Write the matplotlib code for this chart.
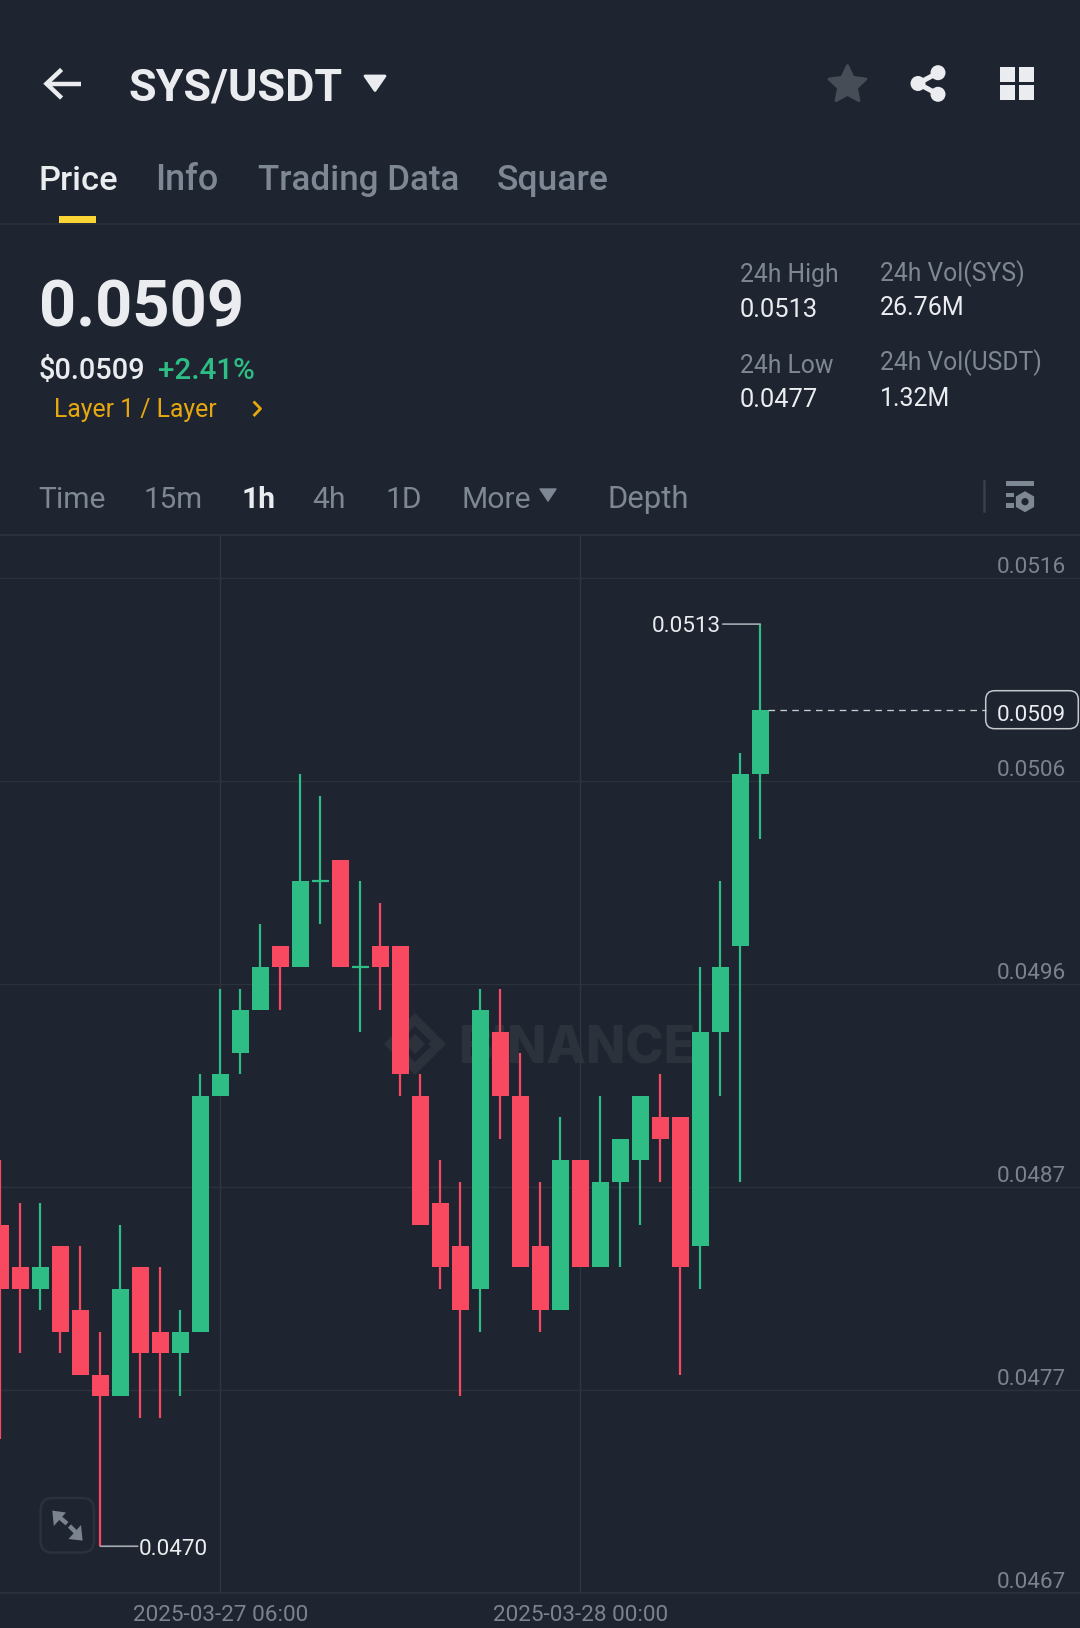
import numpy as np
import matplotlib
matplotlib.use("Agg")
import matplotlib.pyplot as plt
from matplotlib.patches import Polygon, Rectangle, FancyBboxPatch, Circle

W, H = 1080, 1628
BG = "#1F2530"
GRID = "#2C323C"
WHITE = "#EAECEF"
GRAY = "#7E8794"
AXIS_TXT = "#7B838F"
UP = "#2EBD85"
DOWN = "#F84960"
YELLOW = "#FCD535"
GOLD = "#E6A80F"
FONT = "Roboto"

# 1h candles, oldest first
opens = [.0485, .0483, .0482, .0484, .0481, .0478, .0477, .0483, .0480, .0479, .0480, .0491, .0493,
         .0495, .0498, .0497, .0501, .0502, .0497, .0498, .0498, .0491, .0486, .0484, .0482, .0494,
         .0491, .0484, .0481, .0488, .0483, .0487, .0488, .0490, .0490, .0484, .0494, .0498, .0506]
closes = [.0482, .0482, .0483, .0480, .0478, .0477, .0482, .0479, .0479, .0480, .0491, .0492, .0495,
          .0497, .0497, .0501, .0501, .0497, .0497, .0497, .0492, .0485, .0483, .0481, .0495, .0491,
          .0483, .0481, .0488, .0483, .0487, .0489, .0491, .0489, .0483, .0494, .0497, .0506, .0509]
highs = [.0488, .0486, .0486, .0484, .0484, .0480, .0485, .0483, .0483, .0481, .0492, .0496, .0496,
         .0499, .0498, .0506, .0505, .0502, .0501, .0500, .0498, .0492, .0488, .0487, .0496, .0496,
         .0493, .0487, .0490, .0488, .0491, .0489, .0491, .0492, .0490, .0497, .0501, .0507, .0513]
lows = [.0475, .0479, .0481, .0479, .0478, .0470, .0477, .0476, .0476, .0477, .0480, .0491, .0492,
        .0495, .0495, .0497, .0499, .0497, .0494, .0495, .0491, .0485, .0482, .0477, .0480, .0489,
        .0483, .0480, .0481, .0483, .0483, .0483, .0485, .0487, .0478, .0482, .0491, .0487, .0503]
grid_prices = [.051517, .05057, .049623, .048676, .047729, .046782]
grid_labels = ["0.0516", "0.0506", "0.0496", "0.0487", "0.0477", "0.0467"]
time_ticks = [11, 29]
time_labels = ["2025-03-27 06:00", "2025-03-28 00:00"]
last_price = .0509

fig = plt.figure(figsize=(W / 100, H / 100), dpi=100, facecolor=BG)
plt.rcParams["font.family"] = [FONT, "DejaVu Sans"]

# interface layer, in image pixels
ui = fig.add_axes([0, 0, 1, 1], zorder=0)
ui.set_xlim(0, W)
ui.set_ylim(H, 0)
ui.axis("off")
ui.set_facecolor(BG)


def label(x, y, s, px, color=GRAY, weight="normal", ha="left", zorder=3):
    ui.text(x, y, s, fontsize=px * 0.72, color=color, fontweight=weight, ha=ha, va="baseline",
            family=FONT, zorder=zorder)


label(129, 100.5, "SYS/USDT", 45, WHITE, "bold")
label(38.5, 190, "Price", 34.5, WHITE, "medium")
label(155, 190, "Info", 36, GRAY, "medium")
label(258, 190, "Trading Data", 35, GRAY, "medium")
label(497, 190, "Square", 35.5, GRAY, "medium")
ui.add_patch(Rectangle((59, 215.5), 37, 7.5, color=YELLOW, lw=0, zorder=3))
ui.plot([0, W], [224, 224], color=GRID, lw=1.2)

label(39, 326.5, "0.0509", 65, WHITE, "bold")
label(38.5, 379, "$0.0509", 29, WHITE, "medium")
label(158, 379, "+2.41%", 29.5, UP, "medium")
label(53.5, 417, "Layer 1 / Layer", 24.7, GOLD)
ui.plot([254.5, 260.5, 254.5], [402.5, 408.7, 415], color=GOLD, lw=2)

label(740, 282, "24h High", 24.7)
label(740, 316.8, "0.0513", 25.5, WHITE)
label(879.5, 280.6, "24h Vol(SYS)", 24.6)
label(879.5, 315.4, "26.76M", 25, WHITE)
label(740, 372.6, "24h Low", 24.7)
label(740, 407, "0.0477", 25.5, WHITE)
label(879.5, 370, "24h Vol(USDT)", 24.6)
label(879.5, 405.6, "1.32M", 25, WHITE)

for x, s, px in zip([38, 144, 312.5, 385.5, 461, 607],
                    ["Time", "15m", "4h", "1D", "More", "Depth"],
                    [30, 29.5, 30, 30, 30, 31]):
    label(x, 508, s, px)
label(242, 508, "1h", 30, WHITE, "bold")
ui.add_patch(Polygon([[540, 489], [556, 489], [548, 501]], color=GRAY, lw=1, joinstyle="round"))
ui.plot([983.5, 983.5], [481, 511], color="#3A404B", lw=1.8)
ui.plot([0, W], [534.5, 534.5], color=GRID, lw=1.4)

# header icons
ui.plot([47, 81], [83.7, 83.7], color=WHITE, lw=3.2, solid_capstyle="butt")
ui.plot([60, 46.5, 60], [71, 83.7, 96.5], color=WHITE, lw=3.2, solid_joinstyle="miter")
ui.add_patch(Polygon([[365, 76], [385, 76], [375, 90.5]], color=WHITE, lw=2, joinstyle="round"))
ang = np.deg2rad(np.arange(0, 360, 36) - 90)
rad = np.where(np.arange(10) % 2 == 0, 19.5, 9.5)
ui.add_patch(Polygon(np.c_[847.5 + rad * np.cos(ang), 85 + rad * np.sin(ang)], color="#474D57", lw=2,
                     joinstyle="round"))
ui.plot([938, 918, 938], [72.7, 83.5, 94.3], color=WHITE, lw=3.6)
for cx, cy in [(938, 72.7), (918, 83.5), (938, 94.3)]:
    ui.add_patch(Circle((cx, cy), 7.5, color=WHITE, lw=0))
for bx, by in [(1000, 66.7), (1019, 66.7), (1000, 85), (1019, 85)]:
    ui.add_patch(Rectangle((bx, by), 15, 15, color=WHITE, lw=0))

# settings icon
for bx, by, bw, bh in [(1006, 481, 28, 5), (1006, 492.7, 7.5, 4.6), (1006, 503.3, 7.5, 5)]:
    ui.add_patch(Rectangle((bx, by), bw, bh, color=GRAY, lw=0))
hex_ang = np.deg2rad(np.arange(0, 360, 60) - 90)
ui.add_patch(Polygon(np.c_[1025 + 10.5 * np.cos(hex_ang), 501.7 + 10.5 * np.sin(hex_ang)], color=GRAY, lw=0))
ui.add_patch(Circle((1025, 501.7), 3.6, color=BG, lw=0))

# watermark
WM = "#2C323C"
ui.text(458, 1063, "BINANCE", fontsize=51.5 * 0.72, fontweight="heavy", family="Inter", color=WM, ha="left",
        va="baseline", zorder=1)
for pts in ([[415, 1034], [425, 1044], [415, 1054], [405, 1044]],
            [[393, 1035], [402, 1044], [393, 1053], [384, 1044]],
            [[437, 1035], [446, 1044], [437, 1053], [428, 1044]],
            [[415, 1013], [437, 1035], [430.5, 1041], [415, 1026], [399.5, 1041], [393, 1035]],
            [[415, 1075], [437, 1053], [430.5, 1047], [415, 1062], [399.5, 1047], [393, 1053]]):
    ui.add_patch(Polygon(pts, color=WM, lw=0, zorder=1))

# expand button
ui.add_patch(FancyBboxPatch((40.6 + 12, 1498 + 12), 53.4 - 24, 54.6 - 24, boxstyle="round,pad=12",
                            fc="none", ec=GRID, lw=1.8))
ui.add_patch(Polygon([[52.3, 1510.6], [66, 1512.5], [53.8, 1526]], color=AXIS_TXT, lw=0))
ui.add_patch(Polygon([[82.6, 1540.6], [68.5, 1539], [81, 1525]], color=AXIS_TXT, lw=0))
ui.plot([58, 67], [1516, 1523.7], color=AXIS_TXT, lw=3.2, solid_capstyle="butt")
ui.plot([69.5, 77], [1526, 1533.5], color=AXIS_TXT, lw=3.2, solid_capstyle="butt")

# price chart
TOP, BOT = 535, 1593
Y0, K = 624.2, 214700
ax = fig.add_axes([0, 1 - BOT / H, 1, (BOT - TOP) / H], zorder=1)
ax.patch.set_alpha(0)
ax.set_xlim(-0.015, 53.985)
ax.set_ylim(.0513 - (BOT - Y0) / K, .0513 + (Y0 - TOP) / K)
for s in ax.spines.values():
    s.set_visible(False)
ax.spines["bottom"].set_visible(True)
ax.spines["bottom"].set_color(GRID)
ax.spines["bottom"].set_linewidth(1.2)
ax.set_axisbelow(True)
ax.grid(True, axis="y", color=GRID, lw=1.0)
ax.grid(True, axis="x", color="#303641", lw=1.0)
ax.yaxis.tick_right()
ax.set_yticks(grid_prices, grid_labels)
ax.tick_params(axis="y", length=0, pad=-14 * 0.72, labelsize=22.5 * 0.72, labelcolor=AXIS_TXT)
for t in ax.get_yticklabels():
    t.set_ha("right")
    t.set_va("bottom")
    t.set_family(FONT)
ax.set_xticks(time_ticks, time_labels)
ax.tick_params(axis="x", length=0, pad=8.5, labelsize=22.5 * 0.72, labelcolor=AXIS_TXT)
for t in ax.get_xticklabels():
    t.set_family(FONT)

idx = np.arange(len(opens))
o, c, hi, lo = map(np.array, (opens, closes, highs, lows))
col = [UP if b else DOWN for b in (c > o) | ((c == o) & (idx > 0))]
ax.vlines(idx, lo, hi, colors=col, lw=1.6, zorder=3)
ax.bar(idx, np.abs(c - o), bottom=np.minimum(o, c), width=0.865, color=col, lw=0, zorder=4)
doji = c == o
ax.hlines(o[doji], idx[doji] - 0.4325, idx[doji] + 0.4325, colors=UP, lw=1.6, zorder=4)

hi_i, lo_i = int(np.argmax(hi)), int(np.argmin(lo))
for i, v, line_dx, text_dx, ha, text_dy in [(hi_i, hi[hi_i], -37.6, -39.5, "right", -8),
                                            (lo_i, lo[lo_i], 37.4, 38.2, "left", -9)]:
    ax.annotate("", xy=(i, v), xytext=(line_dx, 0), textcoords="offset pixels", zorder=5,
                arrowprops=dict(arrowstyle="-", color="#A7ABB2", lw=1.2, shrinkA=0, shrinkB=0))
    ax.annotate(f"{v:.4f}", xy=(i, v), xytext=(text_dx, text_dy), textcoords="offset pixels", ha=ha,
                va="baseline", color=WHITE, fontsize=22.5 * 0.72, family=FONT, zorder=6)

# last price line and tag
ax.plot([38.4, 49.27], [last_price, last_price], color="#C9CCD1", lw=0.95, dashes=(5, 4), zorder=5)
ax.annotate(f"{last_price:.4f}", xy=(1, last_price), xycoords=("axes fraction", "data"), xytext=(-14, -11.5),
            textcoords="offset pixels", ha="right", va="baseline", color=WHITE, fontsize=22.5 * 0.72, family=FONT,
            zorder=7)
ui.add_patch(FancyBboxPatch((985.7 + 9, 690.7 + 9), 92.6 - 18, 38 - 18, boxstyle="round,pad=9", fc=BG,
                            ec="#C4C7CC", lw=1.1, zorder=4))

fig.savefig("out.png", dpi=100, facecolor=BG)
